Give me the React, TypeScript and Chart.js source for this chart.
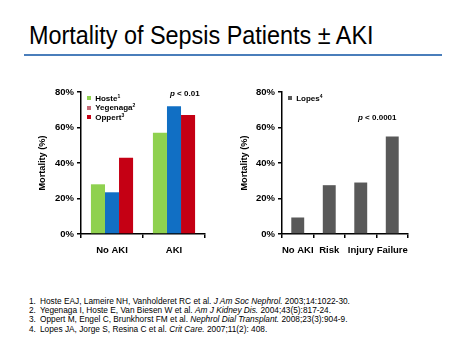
import React, { useEffect, useRef } from "react";
import { Chart, registerables } from "chart.js";

Chart.register(...registerables);

const categoriesA = ["No AKI", "AKI"];
const hosteValues = [28, 57];
const yegenagaValues = [23.5, 72];
const oppertValues = [43, 67];

const categoriesB = ["No AKI", "Risk", "Injury", "Failure"];
const lopesValues = [9.3, 27.5, 29, 55];

const yTickValues = [0, 20, 40, 60, 80];

const FONT = "'Liberation Sans', Arial, Helvetica, sans-serif";
const GREEN = "#8fd14f";
const BLUE = "#116fc4";
const RED = "#c50014";
const GRAY = "#595959";

function makeScales(yWidth: number, titlePad: number) {
  return {
    x: {
      grid: { display: true, drawOnChartArea: false, drawTicks: true, tickLength: 4, color: "#000", lineWidth: 1.5, offset: true },
      border: { display: true, color: "#000", width: 1.5 },
      ticks: {
        color: "#000",
        padding: 7,
        maxRotation: 0,
        minRotation: 0,
        autoSkip: false,
        font: { family: FONT, size: 9.5, weight: "bold" },
      },
      afterFit: (axis: any) => { axis.height = 26; },
    },
    y: {
      min: 0,
      max: 80,
      afterBuildTicks: (axis: any) => { axis.ticks = yTickValues.map((v) => ({ value: v })); },
      grid: { display: true, drawOnChartArea: false, drawTicks: true, tickLength: 4, color: "#000", lineWidth: 1.5 },
      border: { display: true, color: "#000", width: 1.5 },
      ticks: {
        color: "#000",
        padding: 3,
        font: { family: FONT, size: 9.5, weight: "bold" },
        callback: (v: any) => v + "%",
      },
      title: {
        display: true,
        text: "Mortality (%)",
        color: "#000",
        font: { family: FONT, size: 9.2, weight: "bold" },
        padding: { top: titlePad, bottom: 0 },
      },
      afterFit: (axis: any) => { axis.width = yWidth; },
    },
  };
}

function ChartA() {
  const ref = useRef<HTMLCanvasElement>(null);
  useEffect(() => {
    const chart = new Chart(ref.current!, {
      type: "bar",
      data: {
        labels: categoriesA,
        datasets: [
          { label: "Hoste", data: hosteValues, backgroundColor: GREEN },
          { label: "Yegenaga", data: yegenagaValues, backgroundColor: BLUE },
          { label: "Oppert", data: oppertValues, backgroundColor: RED },
        ],
      },
      options: {
        responsive: false,
        animation: false,
        datasets: { bar: { categoryPercentage: 0.68, barPercentage: 1 } },
        layout: { padding: { left: 0, top: 12, right: 15, bottom: 0 } },
        plugins: { legend: { display: false }, tooltip: { enabled: false } },
        scales: makeScales(61, 16.5) as any,
      },
    });
    return () => chart.destroy();
  }, []);
  return <canvas ref={ref} width={200} height={180} style={{ position: "absolute", left: 20, top: 80, width: 200, height: 180 }} />;
}

function ChartB() {
  const ref = useRef<HTMLCanvasElement>(null);
  useEffect(() => {
    const chart = new Chart(ref.current!, {
      type: "bar",
      data: {
        labels: categoriesB,
        datasets: [{ label: "Lopes", data: lopesValues, backgroundColor: GRAY }],
      },
      options: {
        responsive: false,
        animation: false,
        datasets: { bar: { categoryPercentage: 1, barPercentage: 0.41 } },
        layout: { padding: { left: 0, top: 12, right: 42, bottom: 0 } },
        plugins: { legend: { display: false }, tooltip: { enabled: false } },
        scales: makeScales(62, 18.5) as any,
      },
    });
    return () => chart.destroy();
  }, []);
  return <canvas ref={ref} width={230} height={180} style={{ position: "absolute", left: 220, top: 80, width: 230, height: 180 }} />;
}

function LegendRow({ x, y, color, label, sup }: { x: number; y: number; color: string; label: string; sup: string }) {
  return (
    <div style={{ position: "absolute", left: x, top: y - 5, height: 10, display: "flex", alignItems: "center", font: `bold 8px ${FONT}`, color: "#000", whiteSpace: "nowrap" }}>
      <span style={{ display: "inline-block", width: 4, height: 4, background: color, marginRight: 4.5 }} />
      <span>{label}</span>
      <sup style={{ fontSize: 5, position: "relative", top: -2.5, verticalAlign: "baseline" }}>{sup}</sup>
    </div>
  );
}

const references = [
  { n: "1.", a: "Hoste EAJ, Lameire NH, Vanholderet RC et al. ", j: "J Am Soc Nephrol.", b: " 2003;14:1022-30." },
  { n: "2.", a: "Yegenaga I, Hoste E, Van Biesen W et al. ", j: "Am J Kidney Dis.", b: " 2004;43(5):817-24." },
  { n: "3.", a: "Oppert M, Engel C, Brunkhorst FM et al. ", j: "Nephrol Dial Transplant.", b: " 2008;23(3):904-9." },
  { n: "4.", a: "Lopes JA, Jorge S, Resina C et al. ", j: "Crit Care.", b: " 2007;11(2): 408." },
];

export default function App() {
  return (
    <div style={{ position: "absolute", left: 0, top: 0, width: 474, height: 355, background: "#fff", overflow: "hidden" }}>
      <div style={{ position: "absolute", left: 29, top: 19.5, font: `26px ${FONT}`, color: "#000", whiteSpace: "nowrap", transform: "scaleX(0.9)", transformOrigin: "0 0" }}>
        Mortality of Sepsis Patients ± AKI
      </div>
      <div style={{ position: "absolute", left: 24, top: 54, width: 418, height: 1.6, background: "#4a7ebb" }} />

      <ChartA />
      <ChartB />

      <LegendRow x={86.7} y={98.3} color={GREEN} label="Hoste" sup="1" />
      <LegendRow x={86.7} y={107.8} color="#c46a78" label="Yegenaga" sup="2" />
      <LegendRow x={86.7} y={117.3} color={RED} label="Oppert" sup="3" />
      <LegendRow x={287.7} y={98.3} color={GRAY} label="Lopes" sup="4" />

      <div style={{ position: "absolute", left: 170, top: 89, font: `bold 8px ${FONT}`, whiteSpace: "nowrap" }}>
        <i>p</i> &lt; 0.01
      </div>
      <div style={{ position: "absolute", left: 358, top: 113, font: `bold 8px ${FONT}`, whiteSpace: "nowrap" }}>
        <i>p</i> &lt; 0.0001
      </div>

      <div style={{ position: "absolute", left: 29, top: 297, font: `8.3px ${FONT}`, lineHeight: "9.2px", color: "#000" }}>
        {references.map((r) => (
          <div key={r.n} style={{ display: "flex", whiteSpace: "nowrap" }}>
            <span style={{ width: 11, display: "inline-block" }}>{r.n}</span>
            <span>
              {r.a}
              <i>{r.j}</i>
              {r.b}
            </span>
          </div>
        ))}
      </div>
    </div>
  );
}
